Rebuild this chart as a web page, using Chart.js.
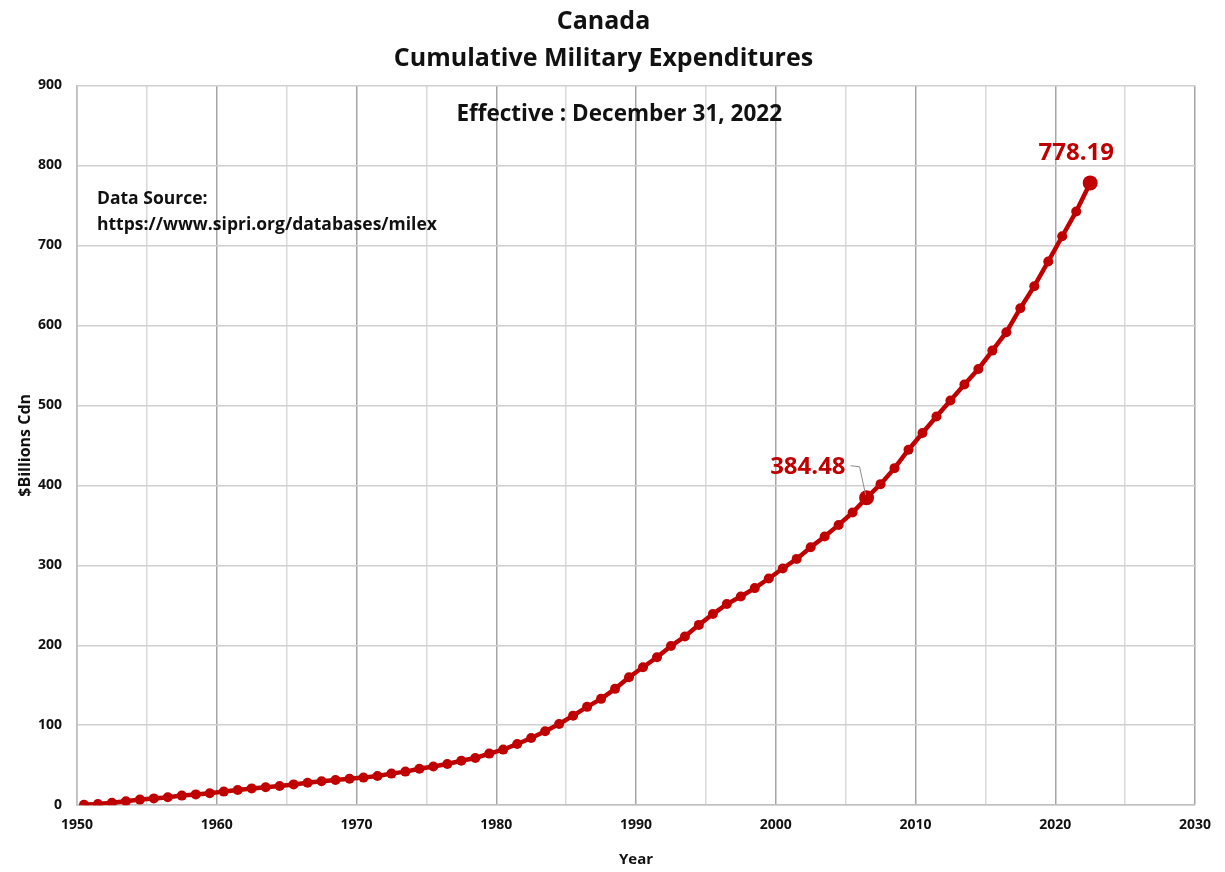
<!DOCTYPE html>
<html>
<head>
<meta charset="utf-8">
<script src="https://cdn.jsdelivr.net/npm/chart.js@4.4.0/dist/chart.umd.min.js"></script>
<style>
  html, body { margin: 0; padding: 0; background: #fff; }
  #wrap { width: 1225px; height: 872px; }
</style>
</head>
<body>
<div id="wrap"><canvas id="myChart" width="1225" height="872"></canvas></div>
<script>
  const years = [1950, 1951, 1952, 1953, 1954, 1955, 1956, 1957, 1958, 1959,
                 1960, 1961, 1962, 1963, 1964, 1965, 1966, 1967, 1968, 1969,
                 1970, 1971, 1972, 1973, 1974, 1975, 1976, 1977, 1978, 1979,
                 1980, 1981, 1982, 1983, 1984, 1985, 1986, 1987, 1988, 1989,
                 1990, 1991, 1992, 1993, 1994, 1995, 1996, 1997, 1998, 1999,
                 2000, 2001, 2002, 2003, 2004, 2005, 2006, 2007, 2008, 2009,
                 2010, 2011, 2012, 2013, 2014, 2015, 2016, 2017, 2018, 2019,
                 2020, 2021, 2022]
  const cumulative = [0.5, 1.5, 3, 5, 7, 8.5, 10, 12, 13.5, 15,
                      17, 19, 21, 22.5, 24, 26, 28, 30, 31.5, 33,
                      34.5, 36.5, 39.5, 42, 45.5, 48.5, 51.5, 55.5, 59, 64.5,
                      69.5, 76.5, 84, 92.5, 101.5, 112, 123, 133, 145.5, 160,
                      172.5, 185, 199, 211, 225.5, 239, 251.5, 261, 271.5, 283.5,
                      296, 308, 322.5, 336, 350.5, 366, 384.48, 401.5, 421.5, 444.5,
                      465.5, 486, 506, 526, 545.5, 568.5, 591.5, 621.5, 649, 680,
                      711.5, 742.5, 778.19]
  const labelled = {2006: '384.48', 2022: '778.19'}

  const red = '#C00000'
  const font = "'Open Sans', 'Liberation Sans', sans-serif"

  // points sit at mid-year like in the spreadsheet
  const points = years.map((y, i) => ({x: y + 0.5, y: cumulative[i]}))

  const notes = {
    id: 'notes',
    afterDatasetsDraw(chart) {
      const ctx = chart.ctx
      const a = chart.chartArea
      const xs = chart.scales.x
      const ys = chart.scales.y
      ctx.save()
      ctx.fillStyle = '#111'
      ctx.font = `bold 22.5px ${font}`
      ctx.textAlign = 'center'
      ctx.textBaseline = 'middle'
      ctx.fillText('Effective : December 31, 2022', a.left + (a.right - a.left) * 0.485, a.top + 29)

      ctx.font = `bold 17.5px ${font}`
      ctx.textAlign = 'left'
      ctx.fillText('Data Source:', a.left + 20, a.top + 114)
      ctx.fillText('https://www.sipri.org/databases/milex', a.left + 20, a.top + 140)

      ctx.font = `bold 24px ${font}`
      ctx.fillStyle = red
      // 2006 label with leader line
      let i = years.indexOf(2006)
      let px = xs.getPixelForValue(points[i].x)
      let py = ys.getPixelForValue(points[i].y)
      ctx.textAlign = 'right'
      ctx.fillText(labelled[2006], px - 21, py - 31)
      ctx.strokeStyle = '#8c8c8c'
      ctx.lineWidth = 1
      ctx.beginPath()
      ctx.moveTo(px - 16, py - 32)
      ctx.lineTo(px - 7, py - 31)
      ctx.lineTo(px - 1, py - 3)
      ctx.stroke()

      // 2022 label
      i = years.indexOf(2022)
      px = xs.getPixelForValue(points[i].x)
      py = ys.getPixelForValue(points[i].y)
      ctx.textAlign = 'center'
      ctx.fillText(labelled[2022], px - 14, py - 30)
      ctx.restore()
    }
  }

  const config = {
    type: 'line',
    data: {
      datasets: [{
        label: 'Cumulative',
        data: points,
        borderColor: red,
        backgroundColor: red,
        borderWidth: 4.5,
        pointRadius: years.map(y => labelled[y] ? 7.5 : 5),
        pointBackgroundColor: red,
        pointBorderWidth: 0,
        tension: 0,
        fill: false
      }]
    },
    options: {
      responsive: false,
      animation: false,
      layout: { padding: { left: 12, right: 30, top: 4, bottom: -1 } },
      plugins: {
        legend: { display: false },
        tooltip: { enabled: false },
        title: {
          display: true,
          text: ['Canada', 'Cumulative Military Expenditures'],
          color: '#111',
          font: { family: font, size: 25, weight: 'bold', lineHeight: 1.45 },
          padding: { top: 0, bottom: 9 }
        }
      },
      scales: {
        x: {
          type: 'linear',
          min: 1950,
          max: 2030,
          ticks: {
            stepSize: 5,
            autoSkip: false,
            maxRotation: 0,
            color: '#111',
            font: { family: font, size: 14, weight: 'bold' },
            padding: 11,
            callback: v => (v % 10 === 0 ? String(v) : '')
          },
          grid: {
            color: c => (c.tick && c.tick.value % 10 === 0 ? '#a6a6a6' : '#d9d9d9'),
            lineWidth: 1.5,
            drawTicks: false
          },
          border: { color: '#bfbfbf', width: 1.5 },
          title: {
            display: true,
            text: 'Year',
            color: '#111',
            font: { family: font, size: 15, weight: 'bold' },
            padding: { top: 7 }
          }
        },
        y: {
          min: 0,
          max: 900,
          afterFit(scale) { scale.width = 65 },
          ticks: {
            stepSize: 100,
            color: '#111',
            font: { family: font, size: 14, weight: 'bold' },
            padding: 15
          },
          grid: { color: '#cfcfcf', lineWidth: 1.5, drawTicks: false },
          border: { color: '#bfbfbf', width: 1.5 },
          title: {
            display: true,
            text: '$Billions Cdn',
            color: '#111',
            font: { family: font, size: 16, weight: 'bold' },
            padding: { bottom: 4 }
          }
        }
      }
    },
    plugins: [notes]
  }

  const myChart = new Chart(document.getElementById('myChart'), config)
</script>
</body>
</html>
